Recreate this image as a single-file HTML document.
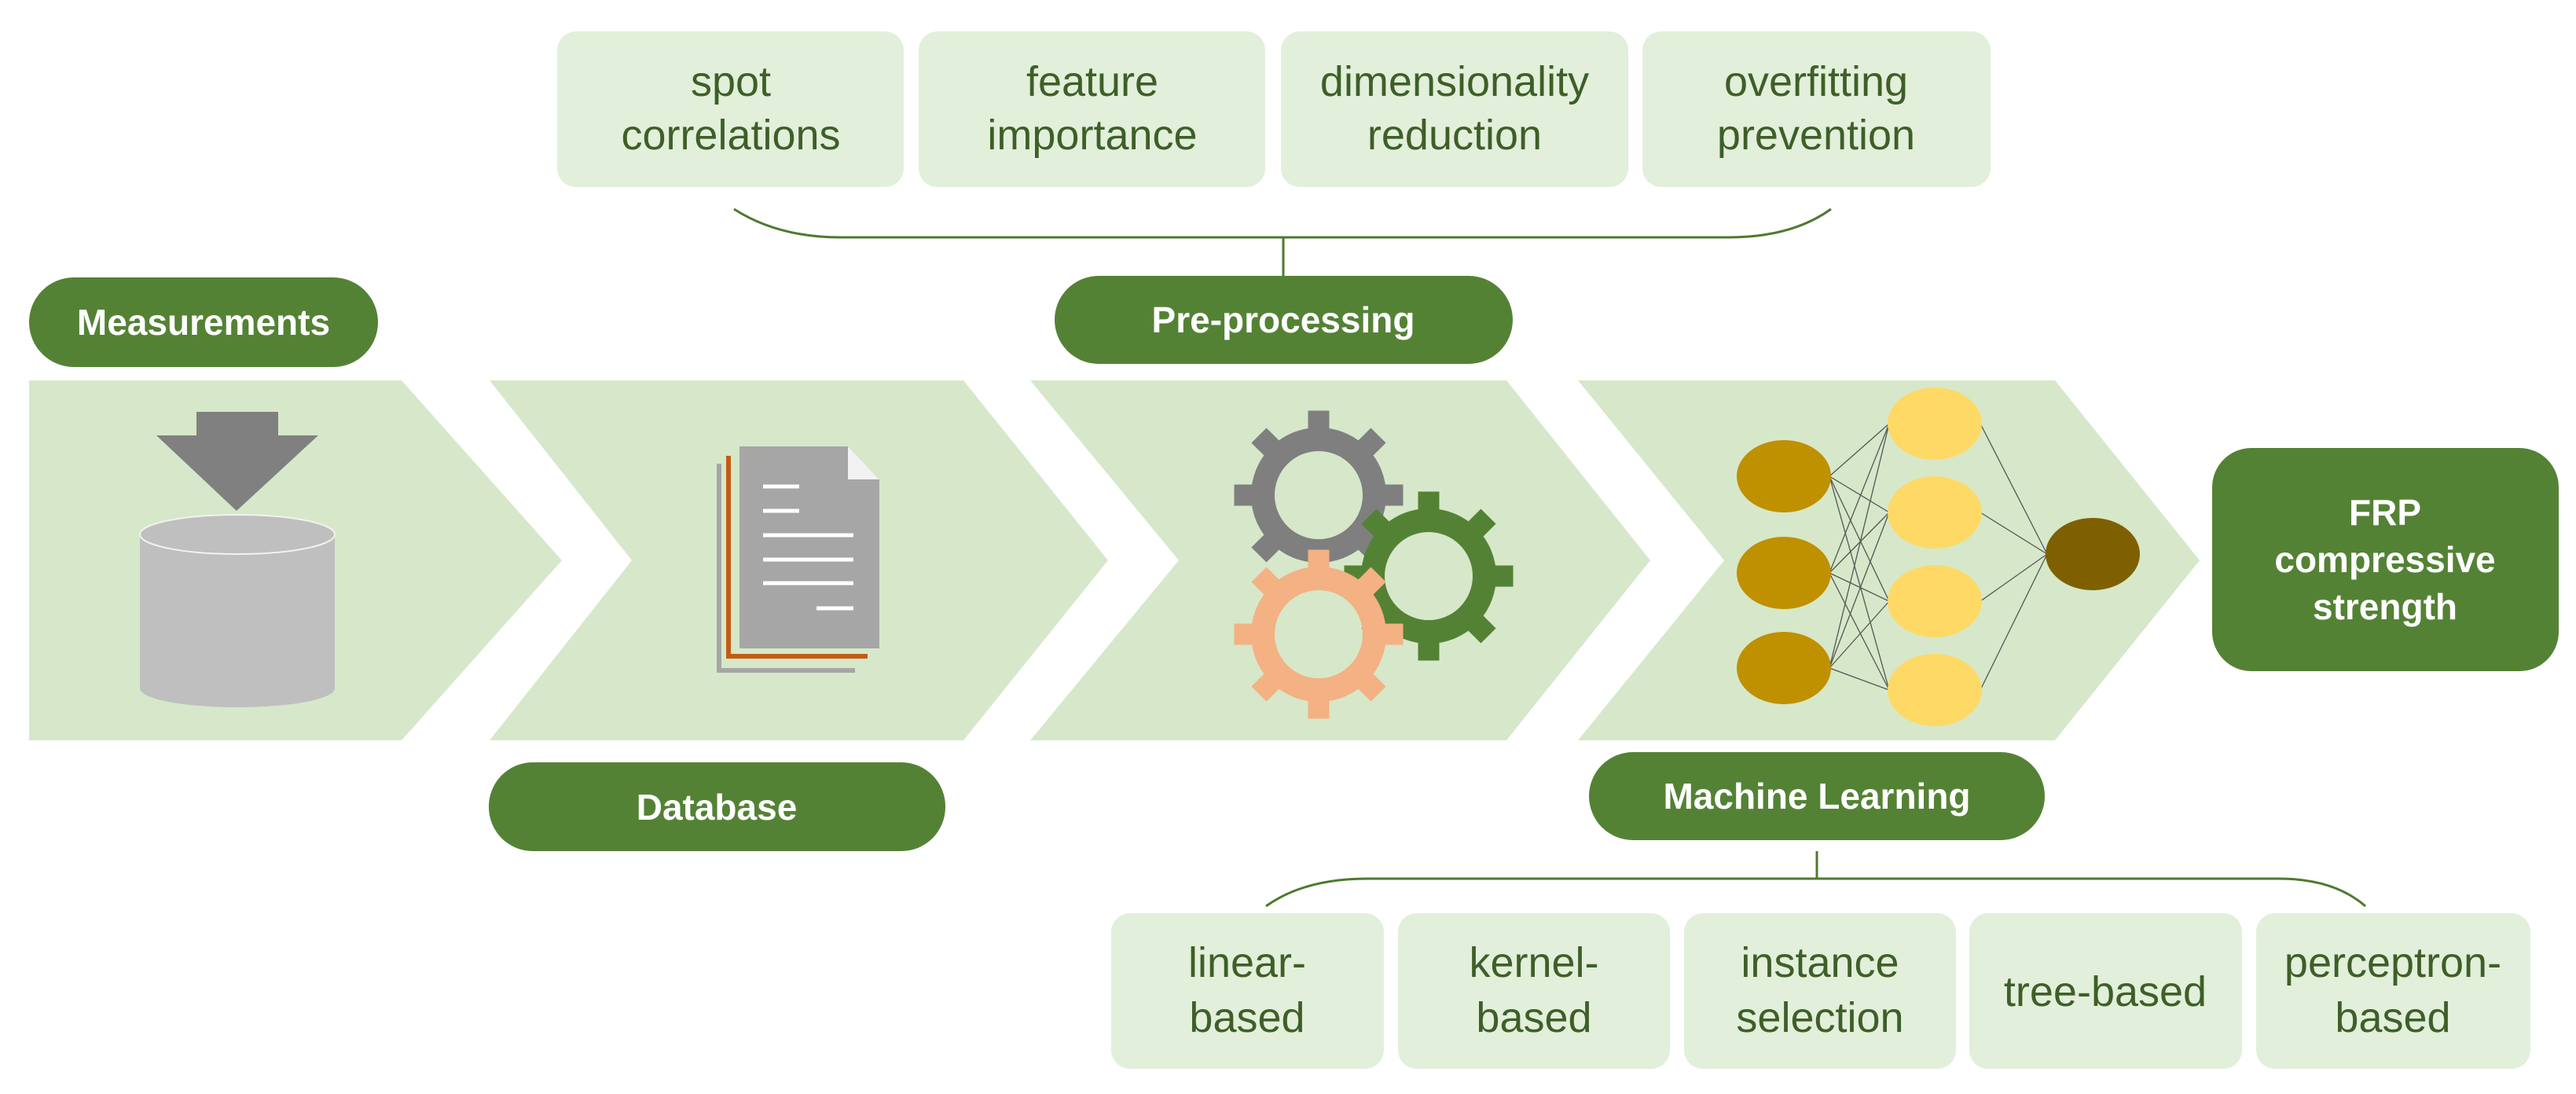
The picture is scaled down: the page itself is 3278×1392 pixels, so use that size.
<!DOCTYPE html>
<html><head><meta charset="utf-8"><style>
html,body{margin:0;padding:0;background:#fff}
svg{display:block}
.t{font-family:"Liberation Sans",sans-serif;fill:#3e5f28;font-size:54px;text-anchor:middle}
.p{font-family:"Liberation Sans",sans-serif;fill:#fff;font-size:46px;font-weight:bold;text-anchor:middle}
</style></head><body>
<svg width="3278" height="1392" viewBox="0 0 3278 1392" xmlns="http://www.w3.org/2000/svg">
<g fill="#e2efda">
<rect x="709" y="40" width="441" height="198" rx="24"/>
<rect x="1169" y="40" width="441" height="198" rx="24"/>
<rect x="1630" y="40" width="442" height="198" rx="24"/>
<rect x="2090" y="40" width="443" height="198" rx="24"/>
</g>
<text class="t" x="930" y="122">spot</text><text class="t" x="930" y="190">correlations</text>
<text class="t" x="1390" y="122">feature</text><text class="t" x="1390" y="190">importance</text>
<text class="t" x="1851" y="122">dimensionality</text><text class="t" x="1851" y="190">reduction</text>
<text class="t" x="2311" y="122">overfitting</text><text class="t" x="2311" y="190">prevention</text>
<g fill="none" stroke="#4e7a30" stroke-width="3">
<path d="M934,266 Q990,302 1070,302 L2200,302 Q2280,302 2330,266"/>
<line x1="1633" y1="302" x2="1633" y2="351"/>
<path d="M1611,1153 Q1660,1118 1740,1118 L2900,1118 Q2970,1118 3010,1153"/>
<line x1="2312" y1="1083" x2="2312" y2="1118"/>
</g>
<g fill="#548235">
<rect x="37" y="353" width="444" height="114" rx="57"/>
<rect x="1342" y="351" width="583" height="112" rx="56"/>
<rect x="622" y="970" width="581" height="113" rx="56"/>
<rect x="2022" y="957" width="580" height="112" rx="56"/>
<rect x="2815" y="570" width="441" height="284" rx="50"/>
</g>
<text class="p" x="259" y="426">Measurements</text>
<text class="p" x="1633" y="423">Pre-processing</text>
<text class="p" x="912" y="1043">Database</text>
<text class="p" x="2312" y="1029">Machine Learning</text>
<text class="p" x="3035" y="668">FRP</text>
<text class="p" x="3035" y="728">compressive</text>
<text class="p" x="3035" y="788">strength</text>
<g fill="#d6e8c9">
<polygon points="37,484 511,484 715,713 511,942 37,942"/>
<polygon points="623,484 1226,484 1410,713 1226,942 623,942 804,713"/>
<polygon points="1311,484 1917,484 2100,713 1917,942 1311,942 1500,713"/>
<polygon points="2008,484 2615,484 2799,713 2615,942 2008,942 2194,713"/>
</g>
<rect x="250" y="524" width="104" height="32" fill="#808080"/>
<polygon points="199,554 405,554 301,650" fill="#808080"/>
<path d="M178,680 L178,876 A124,24 0 0 0 426,876 L426,680 Z" fill="#bfbfbf"/>
<ellipse cx="302" cy="680" rx="124" ry="25" fill="#bfbfbf" stroke="#f2f2f2" stroke-width="2"/>
<rect x="912" y="590" width="176" height="266" fill="#a6a6a6"/>
<rect x="918" y="590" width="170" height="260" fill="#d6e8c9"/>
<rect x="924" y="580" width="180" height="258" fill="#c55a11"/>
<rect x="930" y="580" width="174" height="252" fill="#d6e8c9"/>
<polygon points="941,568 1079,568 1119,610 1119,825 941,825" fill="#a6a6a6"/>
<polygon points="1079,568 1119,610 1079,610" fill="#f2f2f2"/>
<g stroke="#fff" stroke-width="5">
<line x1="971" y1="619" x2="1017" y2="619"/><line x1="971" y1="650" x2="1017" y2="650"/>
<line x1="971" y1="681" x2="1086" y2="681"/><line x1="971" y1="712" x2="1086" y2="712"/>
<line x1="971" y1="742" x2="1086" y2="742"/><line x1="1039" y1="774" x2="1086" y2="774"/>
</g>
<defs>
<g id="gear">
<circle r="71" fill="none" stroke-width="30"/>
<g id="th"><rect x="-13" y="-107" width="26" height="40"/><rect x="-13" y="67" width="26" height="40"/></g>
<use href="#th" transform="rotate(45)"/><use href="#th" transform="rotate(90)"/><use href="#th" transform="rotate(135)"/>
</g>
</defs>
<use href="#gear" transform="translate(1678,630)" fill="#7f7f7f" stroke="#7f7f7f"/>
<use href="#gear" transform="translate(1818,733)" fill="#548235" stroke="#548235"/>
<use href="#gear" transform="translate(1678,807)" fill="#f4b183" stroke="#f4b183"/>
<g stroke="#555" stroke-width="1.3">
<line x1="2328" y1="606" x2="2404" y2="539"/><line x1="2328" y1="606" x2="2404" y2="652"/><line x1="2328" y1="606" x2="2404" y2="765"/><line x1="2328" y1="606" x2="2404" y2="878"/>
<line x1="2328" y1="729" x2="2404" y2="539"/><line x1="2328" y1="729" x2="2404" y2="652"/><line x1="2328" y1="729" x2="2404" y2="765"/><line x1="2328" y1="729" x2="2404" y2="878"/>
<line x1="2328" y1="850" x2="2404" y2="539"/><line x1="2328" y1="850" x2="2404" y2="652"/><line x1="2328" y1="850" x2="2404" y2="765"/><line x1="2328" y1="850" x2="2404" y2="878"/>
<line x1="2520" y1="539" x2="2605" y2="705"/><line x1="2520" y1="652" x2="2605" y2="705"/><line x1="2520" y1="765" x2="2605" y2="705"/><line x1="2520" y1="878" x2="2605" y2="705"/>
</g>
<g fill="#bf9000"><ellipse cx="2270" cy="606" rx="60" ry="46"/><ellipse cx="2270" cy="729" rx="60" ry="46"/><ellipse cx="2270" cy="850" rx="60" ry="46"/></g>
<g fill="#ffd966"><ellipse cx="2462" cy="539" rx="60" ry="46"/><ellipse cx="2462" cy="652" rx="60" ry="46"/><ellipse cx="2462" cy="765" rx="60" ry="46"/><ellipse cx="2462" cy="878" rx="60" ry="46"/></g>
<ellipse cx="2663" cy="705" rx="60" ry="46" fill="#7f6000"/>
<g fill="#e2efda">
<rect x="1414" y="1162" width="347" height="198" rx="24"/>
<rect x="1779" y="1162" width="346" height="198" rx="24"/>
<rect x="2143" y="1162" width="346" height="198" rx="24"/>
<rect x="2506" y="1162" width="347" height="198" rx="24"/>
<rect x="2871" y="1162" width="349" height="198" rx="24"/>
</g>
<text class="t" x="1587" y="1243">linear-</text><text class="t" x="1587" y="1313">based</text>
<text class="t" x="1952" y="1243">kernel-</text><text class="t" x="1952" y="1313">based</text>
<text class="t" x="2316" y="1243">instance</text><text class="t" x="2316" y="1313">selection</text>
<text class="t" x="2679" y="1280">tree-based</text>
<text class="t" x="3045" y="1243">perceptron-</text><text class="t" x="3045" y="1313">based</text>
</svg>
</body></html>
